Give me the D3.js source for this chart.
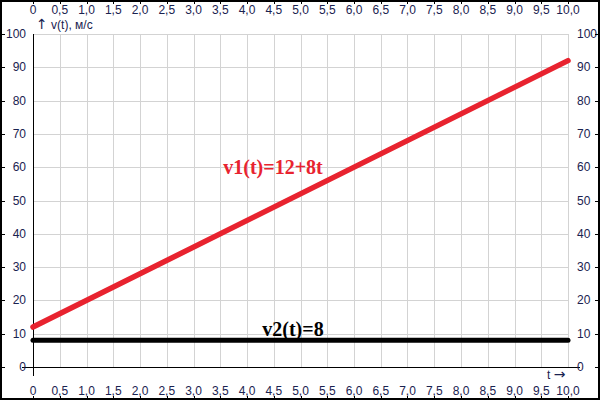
<!DOCTYPE html>
<html>
<head>
<meta charset="utf-8">
<script src="https://cdn.jsdelivr.net/npm/d3@7"></script>
<style>
  body { margin: 0; background: #fff; }
  .tick-label { font-family: "Liberation Sans", Arial, sans-serif; font-size: 12px; fill: #1a2250; }
  .arrow { font-family: "DejaVu Sans", sans-serif; }
</style>
</head>
<body>
<div id="chart-area"></div>
<script>
// Data
var tValues = [0, 10];
var v1Values = [12, 92];
var v2Values = [8, 8];
var xTicks = [0, 0.5, 1, 1.5, 2, 2.5, 3, 3.5, 4, 4.5, 5, 5.5, 6, 6.5, 7, 7.5, 8, 8.5, 9, 9.5, 10];
var xTickLabels = ["0", "0,5", "1,0", "1,5", "2,0", "2,5", "3,0", "3,5", "4,0", "4,5", "5,0",
  "5,5", "6,0", "6,5", "7,0", "7,5", "8,0", "8,5", "9,0", "9,5", "10,0"];
var yTicks = [0, 10, 20, 30, 40, 50, 60, 70, 80, 90, 100];

var W = 600, H = 400;

var svg = d3.select("#chart-area").append("svg")
    .attr("width", W)
    .attr("height", H);

svg.append("rect")
    .attr("x", 0).attr("y", 0)
    .attr("width", W).attr("height", H)
    .attr("fill", "#fff");

// Scales
var x = d3.scaleLinear().domain([0, 10]).range([33, 568]);
var y = d3.scaleLinear().domain([0, 100]).range([367, 34]);

// Grid
svg.append("g").selectAll("line")
    .data(xTicks.slice(1))
  .enter().append("line")
    .attr("x1", function(d) { return Math.round(x(d)) + 0.5; })
    .attr("x2", function(d) { return Math.round(x(d)) + 0.5; })
    .attr("y1", y(100)).attr("y2", y(0))
    .attr("stroke", "#d3d3d3");

svg.append("g").selectAll("line")
    .data(yTicks.slice(1))
  .enter().append("line")
    .attr("y1", function(d) { return Math.round(y(d)) + 0.5; })
    .attr("y2", function(d) { return Math.round(y(d)) + 0.5; })
    .attr("x1", x(0)).attr("x2", x(10))
    .attr("stroke", "#d3d3d3");

// Axis lines
svg.append("line")
    .attr("x1", 22).attr("x2", 580)
    .attr("y1", Math.round(y(0)) + 0.5).attr("y2", Math.round(y(0)) + 0.5)
    .attr("stroke", "#000");
svg.append("line")
    .attr("x1", Math.round(x(0)) + 0.5).attr("x2", Math.round(x(0)) + 0.5)
    .attr("y1", y(100)).attr("y2", y(0) + 9)
    .attr("stroke", "#000");

// Tick labels: top and bottom
[14, 395].forEach(function(yy) {
  svg.append("g").selectAll("text")
      .data(xTicks)
    .enter().append("text")
      .attr("class", "tick-label")
      .attr("x", function(d) { return x(d); })
      .attr("y", yy)
      .attr("text-anchor", "middle")
      .text(function(d, i) { return xTickLabels[i]; });
});

// Border ticks top/bottom
svg.append("g").selectAll("line")
    .data(xTicks)
  .enter().append("line")
    .attr("x1", function(d) { return Math.round(x(d)) + 0.5; })
    .attr("x2", function(d) { return Math.round(x(d)) + 0.5; })
    .attr("y1", H - 4).attr("y2", H)
    .attr("stroke", "#000");
svg.append("g").selectAll("line")
    .data(xTicks)
  .enter().append("line")
    .attr("x1", function(d) { return Math.round(x(d)) + 0.5; })
    .attr("x2", function(d) { return Math.round(x(d)) + 0.5; })
    .attr("y1", 0).attr("y2", 4)
    .attr("stroke", "#000");

// Tick labels: left and right
svg.append("g").selectAll("text")
    .data(yTicks)
  .enter().append("text")
    .attr("class", "tick-label")
    .attr("x", 26)
    .attr("y", function(d) { return y(d) + 4; })
    .attr("text-anchor", "end")
    .text(function(d) { return d; });
svg.append("g").selectAll("text")
    .data(yTicks)
  .enter().append("text")
    .attr("class", "tick-label")
    .attr("x", 577)
    .attr("y", function(d) { return y(d) + 4; })
    .attr("text-anchor", "start")
    .text(function(d) { return d; });

svg.append("g").selectAll("line")
    .data(yTicks)
  .enter().append("line")
    .attr("y1", function(d) { return Math.round(y(d)) + 0.5; })
    .attr("y2", function(d) { return Math.round(y(d)) + 0.5; })
    .attr("x1", 0).attr("x2", 5)
    .attr("stroke", "#000");
svg.append("g").selectAll("line")
    .data(yTicks)
  .enter().append("line")
    .attr("y1", function(d) { return Math.round(y(d)) + 0.5; })
    .attr("y2", function(d) { return Math.round(y(d)) + 0.5; })
    .attr("x1", W - 5).attr("x2", W)
    .attr("stroke", "#000");

// Axis titles
var yTitle = svg.append("text")
    .attr("class", "tick-label")
    .attr("x", 36).attr("y", 29)
    .style("font-size", "12px");
yTitle.append("tspan").attr("class", "arrow").style("font-size", "14px").text("\u2191");
yTitle.append("tspan").text(" v(t), \u043c/\u0441");

var xTitle = svg.append("text")
    .attr("class", "tick-label")
    .attr("x", 547).attr("y", 379)
    .style("font-size", "12px");
xTitle.append("tspan").text("t ");
xTitle.append("tspan").attr("class", "arrow").style("font-size", "14px").text("\u2192");

// Lines
var line = d3.line()
    .x(function(d) { return x(d[0]); })
    .y(function(d) { return y(d[1]); });

svg.append("path")
    .attr("d", line(tValues.map(function(t, i) { return [t, v2Values[i]]; })))
    .attr("fill", "none")
    .attr("stroke", "#000")
    .attr("stroke-width", 5)
    .attr("stroke-linecap", "round");

svg.append("path")
    .attr("d", line(tValues.map(function(t, i) { return [t, v1Values[i]]; })))
    .attr("fill", "none")
    .attr("stroke", "#e8232f")
    .attr("stroke-width", 5.5)
    .attr("stroke-linecap", "round");

// Labels
svg.append("text")
    .attr("x", 273).attr("y", 174)
    .attr("text-anchor", "middle")
    .style("font-family", "'Liberation Serif', 'Times New Roman', serif")
    .style("font-weight", "bold")
    .style("font-size", "20px")
    .attr("fill", "#e8232f")
    .text("v1(t)=12+8t");
svg.append("text")
    .attr("x", 293).attr("y", 336)
    .attr("text-anchor", "middle")
    .style("font-family", "'Liberation Serif', 'Times New Roman', serif")
    .style("font-weight", "bold")
    .style("font-size", "20px")
    .attr("fill", "#000")
    .text("v2(t)=8");

// Border
svg.append("rect")
    .attr("x", 1).attr("y", 1)
    .attr("width", W - 2).attr("height", H - 2)
    .attr("fill", "none")
    .attr("stroke", "#000")
    .attr("stroke-width", 2);
</script>
</body>
</html>
